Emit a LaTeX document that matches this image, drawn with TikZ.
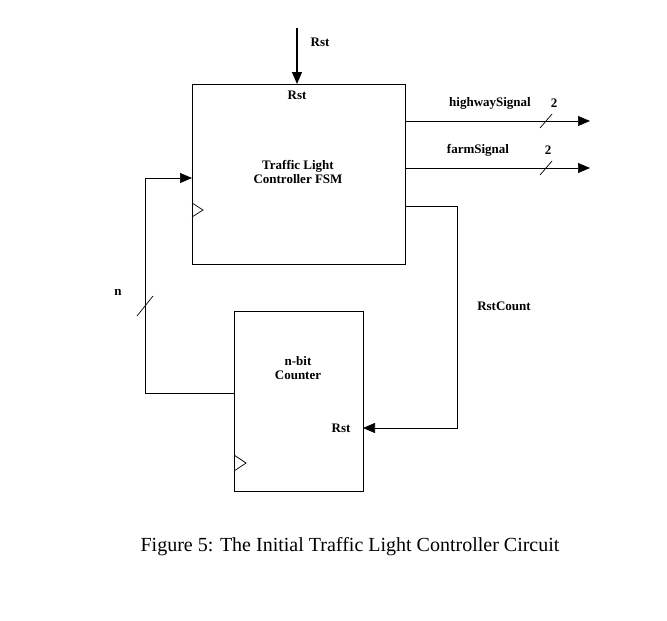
\documentclass[tikz,border=0pt]{standalone}
\usepackage{fontspec}
\setmainfont{Liberation Serif}
\usetikzlibrary{arrows.meta}
\begin{document}
\begin{tikzpicture}[x=1pt,y=-1pt,
  lbl/.style={font=\bfseries\fontsize{13}{14.5}\selectfont, inner sep=1pt},
  wire/.style={line width=0.7pt},
  arr/.style={wire, -{Triangle[length=12pt,width=10pt]}},
  blk/.style={draw, line width=0.9pt, minimum width=#1, anchor=north west, inner sep=0pt}]
\useasboundingbox (0,0) rectangle (667,621);
% blocks
\node[blk=213pt, minimum height=180pt] (fsm) at (192,84) {};
\node[blk=129pt, minimum height=180pt] (cnt) at (234,311) {};
\node[lbl, align=center] (fsmt) at (298,172) {Traffic Light\\Controller FSM};
\node[lbl, align=center] (cntt) at (298,368) {n-bit\\Counter};
\node[lbl] (frst) at (297,95) {Rst};
\node[lbl] (crst) at (341,428) {Rst};
% clocks
\draw[wire] (192,203) -- (203,210) -- (192,217);
\draw[wire] (234,455) -- (246,463) -- (234,471);
% reset input
\coordinate (rin) at (297,28);
\draw[arr, line width=1.2pt] (rin) -- (297,84);
\node[lbl] (rlbl) at (320,42) {Rst};
% outputs
\coordinate (h0) at (405,121); \coordinate (h1) at (590,121);
\coordinate (f0) at (405,168); \coordinate (f1) at (590,168);
\draw[arr] (h0) -- (h1);
\draw[arr] (f0) -- (f1);
\draw[wire] (540,128) -- (552,114);
\draw[wire] (540,175) -- (552,161);
\node[lbl] (hl) at (490,103) {highwaySignal};
\node[lbl] (h2) at (554,103) {2};
\node[lbl] (fl) at (478,150) {farmSignal};
\node[lbl] (f2) at (548,150) {2};
% RstCount loop
\coordinate (r0) at (405,206);
\draw[arr] (r0) -- (457,206) -- (457,428) -- (363,428);
\node[lbl] (rcl) at (504,306) {RstCount};
% counter feedback
\coordinate (c0) at (234,393);
\draw[arr] (c0) -- (145,393) -- (145,178) -- (192,178);
\draw[wire] (137,316) -- (153,296);
\node[lbl] (nl) at (118,292) {n};
% caption
\node[font=\fontsize{20}{22}\selectfont] (cap) at (350,547) {Figure 5: The Initial Traffic Light Controller Circuit};
\end{tikzpicture}
\end{document}
